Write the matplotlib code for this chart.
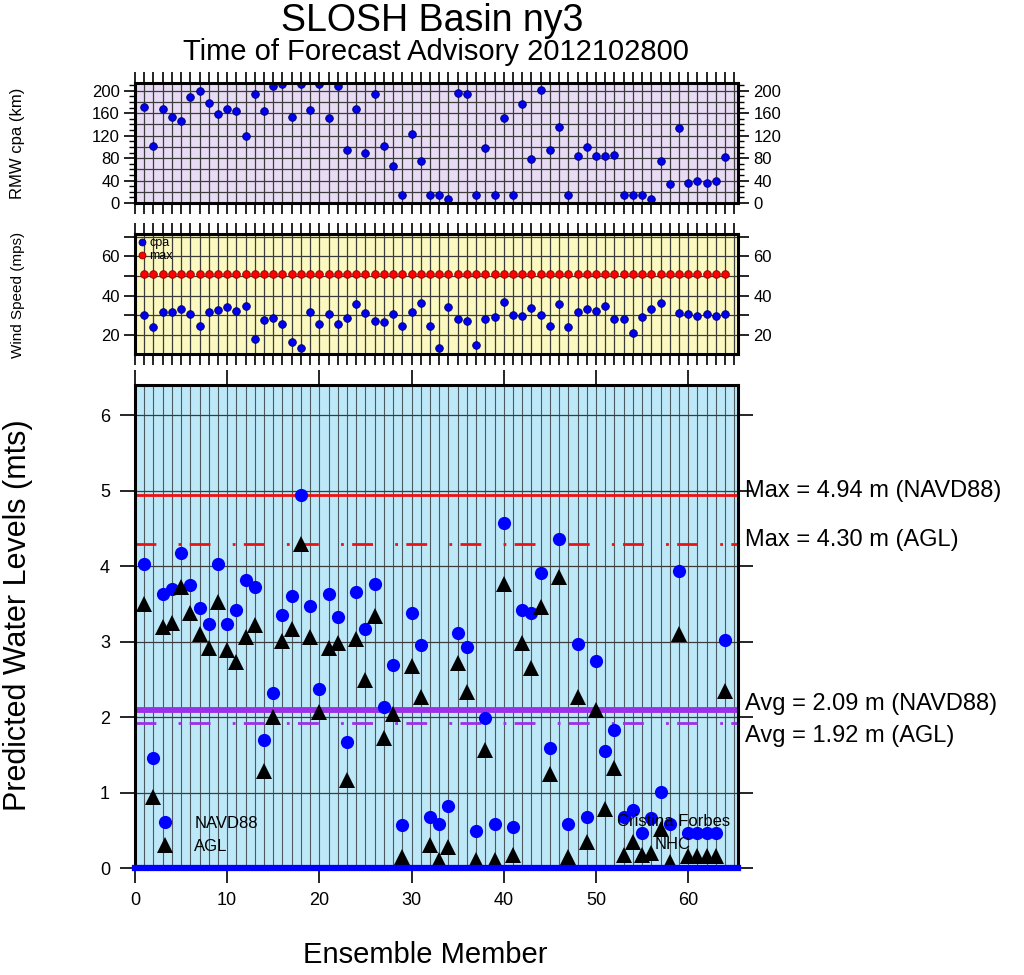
import matplotlib
matplotlib.use("Agg")
import matplotlib.pyplot as plt
import matplotlib.transforms as mtransforms
import numpy as np

plt.rcParams['font.family'] = ['Liberation Sans', 'DejaVu Sans']

# ensemble members 1..64
members = np.arange(1, 65)

# RMW at cpa (km)
rmw_cpa = [171, 102, 168, 154, 147, 189, 200, 178, 158, 167,
           164, 120, 195, 164, 209, 213, 154, 213, 165, 213,
           152, 208, 94, 167, 90, 194, 102, 66, 14, 123,
           74, 14, 14, 7, 197, 195, 14, 98, 14, 152,
           14, 177, 78, 202, 94, 135, 14, 83, 100, 83,
           83, 86, 14, 14, 14, 7, 75, 34, 134, 35,
           39, 35, 39, 82]

# wind speed (mps)
wind_cpa = [30.2, 23.9, 31.7, 31.7, 33.4, 30.5, 24.6, 31.7, 32.8, 34.1,
            32.2, 34.6, 18.0, 27.5, 28.7, 25.8, 16.3, 13.2, 31.7, 25.4,
            30.5, 25.8, 28.7, 35.6, 31.4, 27.0, 26.5, 30.5, 24.6, 31.7,
            36.3, 24.6, 13.2, 34.4, 28.0, 27.0, 14.9, 28.0, 29.2, 36.8,
            30.2, 29.7, 33.9, 30.2, 24.4, 35.6, 23.9, 31.7, 33.4, 32.2,
            34.6, 28.0, 28.0, 20.9, 29.2, 33.4, 36.3, np.nan, 31.2, 30.5,
            29.8, 30.5, 29.8, 30.5]
wind_max = [51.2] * 64

# predicted water levels (m)
navd88 = [4.03, 1.46, 3.63, 3.70, 4.17, 3.75, 3.44, 3.23, 4.03, 3.23,
          3.42, 3.81, 3.72, 1.70, 2.32, 3.35, 3.60, 4.94, 3.47, 2.37,
          3.63, 3.32, 1.67, 3.66, 3.17, 3.77, 2.13, 2.69, 0.57, 3.38,
          2.95, 0.68, 0.58, 0.82, 3.11, 2.93, 0.49, 1.99, 0.58, 4.57,
          0.54, 3.42, 3.38, 3.91, 1.59, 4.36, 0.58, 2.97, 0.68, 2.74,
          1.55, 1.83, 0.68, 0.77, 0.46, 0.66, 1.01, 0.58, 3.93, 0.46,
          0.46, 0.46, 0.46, 3.02]
agl = [3.50, 0.94, 3.19, 3.25, 3.72, 3.38, 3.10, 2.91, 3.52, 2.89,
       2.73, 3.06, 3.22, 1.28, 2.00, 3.01, 3.17, 4.30, 3.06, 2.07,
       2.91, 2.98, 1.17, 3.03, 2.49, 3.34, 1.72, 2.04, 0.15, 2.68,
       2.26, 0.30, 0.11, 0.28, 2.72, 2.33, 0.11, 1.56, 0.11, 3.76,
       0.17, 2.98, 2.65, 3.46, 1.24, 3.85, 0.15, 2.26, 0.34, 2.09,
       0.78, 1.32, 0.17, 0.34, 0.17, 0.20, 0.52, 0.08, 3.10, 0.16,
       0.16, 0.16, 0.16, 2.34]

max_navd, max_agl = 4.94, 4.30
avg_navd, avg_agl = 2.09, 1.92

grid_c = '#3c3c3c'
xmax = 65.4

fig = plt.figure(figsize=(10.24, 9.75), dpi=100)
ax1 = fig.add_axes([0.1318, 0.7918, 0.5889, 0.1231])
ax2 = fig.add_axes([0.1318, 0.6369, 0.5889, 0.1228])
ax3 = fig.add_axes([0.1318, 0.1097, 0.5889, 0.4954])

for ax in (ax1, ax2, ax3):
    for s in ax.spines.values():
        s.set_linewidth(2.2)
        s.set_zorder(6)
    ax.set_xlim(0, xmax)

# ---- top panel: RMW
ax1.set_facecolor('#e8dcf5')
ax1.set_ylim(0, 214)
ax1.set_xticks(np.arange(0, 66))
ax1.tick_params(axis='x', direction='out', top=True, bottom=True,
                labelbottom=False, length=8, width=1.2)
ax1.set_yticks(np.arange(0, 201, 40))
ax1.set_yticks(np.arange(0, 214, 10), minor=True)
ax1.tick_params(axis='y', which='major', direction='out', left=True, right=True,
                labelleft=True, labelright=True, length=8, width=1.2,
                labelsize=12, pad=3)
ax1.tick_params(axis='y', which='minor', direction='out', left=True, right=True,
                length=4, width=1.0)
ax1.grid(True, axis='x', color=grid_c, lw=0.9, zorder=1)
for g in np.arange(20, 214, 20):
    ax1.axhline(g, color=grid_c, lw=0.9, zorder=1)
ax1.set_axisbelow(True)
ax1.plot(members, rmw_cpa, 'o', color='#0000ee', markersize=5.5,
         markeredgecolor='#00006a', markeredgewidth=0.6, zorder=4)
fig.text(18 / 1024, 1 - 143 / 975, 'RMW cpa (km)', fontsize=12,
         rotation=90, ha='center', va='center')

# ---- middle panel: wind speed
ax2.set_facecolor('#fbf8c0')
ax2.set_ylim(10.3, 71.3)
ax2.set_xticks(np.arange(0, 66))
ax2.tick_params(axis='x', direction='out', top=True, bottom=True,
                labelbottom=False, length=8, width=1.2)
ax2.set_yticks(np.arange(20, 71, 10))
ax2.set_yticklabels(['20', '', '40', '', '60', ''])
ax2.tick_params(axis='y', direction='out', left=True, right=True,
                labelleft=True, labelright=True, length=8, width=1.2,
                labelsize=12, pad=3)
ax2.grid(True, color=grid_c, lw=0.9)
ax2.set_axisbelow(True)
ax2.plot(members, wind_cpa, 'o', color='#0000ee', markersize=5.5,
         markeredgecolor='#00006a', markeredgewidth=0.6, zorder=4, label='cpa')
ax2.plot(members, wind_max, 'o', color='#ff0000', markersize=5.5,
         markeredgecolor='#8a0000', markeredgewidth=0.6, zorder=4, label='max')
ax2.legend(loc='upper left', frameon=False, fontsize=9, handlelength=0.6,
           handletextpad=0.3, labelspacing=0.05, borderaxespad=0.15,
           borderpad=0.1, markerscale=0.9)
fig.text(18 / 1024, 1 - 295 / 975, 'Wind Speed (mps)', fontsize=11,
         rotation=90, ha='center', va='center')

# ---- bottom panel: water levels
ax3.set_facecolor('#bde8f8')
ax3.set_ylim(0, 6.4)
ax3.set_xticks(np.arange(0, 61, 10))
ax3.set_xticks(np.arange(0, 66, 1), minor=True)
ax3.tick_params(axis='x', which='major', direction='out', top=True, bottom=True,
                labeltop=False, length=11, width=1.2, labelsize=13, pad=6)
ax3.tick_params(axis='x', which='minor', length=0)
ax3.set_yticks(np.arange(0, 7, 1))
ax3.tick_params(axis='y', direction='out', left=True, right=True,
                labelleft=True, labelright=False, length=11, width=1.2,
                labelsize=13, pad=7)
ax3.grid(True, axis='x', which='both', color='#4a5a60', lw=0.8)
ax3.grid(True, axis='y', which='major', color='#3c3c3c', lw=0.9)
ax3.set_axisbelow(True)

ax3.axhline(max_navd, color='#ee1111', lw=2.0, zorder=3)
ax3.axhline(max_agl, color='#ee1111', lw=2.0, zorder=3,
            linestyle=(0, (7.5, 8, 1, 3)))
ax3.axhline(avg_navd, color='#9b30e8', lw=4.2, zorder=3)
ax3.axhline(avg_agl, color='#9b30e8', lw=2.0, zorder=3,
            linestyle=(0, (7.5, 8, 1, 3)))
ax3.axhline(0, color='#0000ff', lw=4.5, zorder=7, clip_on=False)

ax3.plot(members, navd88, 'o', color='#0000ff', markersize=9.5,
         markeredgewidth=0, zorder=5, label='NAVD88')
ax3.plot(members, agl, '^', color='black', markersize=11.5,
         markeredgewidth=0, zorder=5, label='AGL')
ax3.legend(loc='lower left', bbox_to_anchor=(0.036, 0.03), frameon=False,
           fontsize=12, handlelength=1.0, handletextpad=1.25,
           labelspacing=0.45, borderpad=0, borderaxespad=0)

ax3.text(58.4, 0.62, 'Cristina Forbes', fontsize=12, ha='center', va='center',
         zorder=8)
ax3.text(58.3, 0.31, 'NHC', fontsize=12, ha='center', va='center', zorder=8)

trans = mtransforms.blended_transform_factory(ax3.transAxes, ax3.transData)
ax3.text(1.012, max_navd + 0.05, 'Max = %.2f m (NAVD88)' % max_navd,
         transform=trans, fontsize=17, va='center', ha='left')
ax3.text(1.012, max_agl + 0.04, 'Max = %.2f m (AGL)' % max_agl,
         transform=trans, fontsize=17, va='center', ha='left')
ax3.text(1.012, avg_navd + 0.08, 'Avg = %.2f m (NAVD88)' % avg_navd,
         transform=trans, fontsize=17, va='center', ha='left')
ax3.text(1.012, avg_agl - 0.17, 'Avg = %.2f m (AGL)' % avg_agl,
         transform=trans, fontsize=17, va='center', ha='left')

fig.text(18 / 1024, 1 - 615 / 975, 'Predicted Water Levels (mts)', fontsize=22,
         rotation=90, ha='center', va='center')
fig.text(425 / 1024, 1 - 955 / 975, 'Ensemble Member', fontsize=21,
         ha='center', va='center')
fig.text(432 / 1024, 1 - 21 / 975, 'SLOSH Basin ny3', fontsize=27,
         ha='center', va='center')
fig.text(436 / 1024, 1 - 52 / 975, 'Time of Forecast Advisory 2012102800',
         fontsize=21, ha='center', va='center')

fig.savefig('out.png', dpi=100)
